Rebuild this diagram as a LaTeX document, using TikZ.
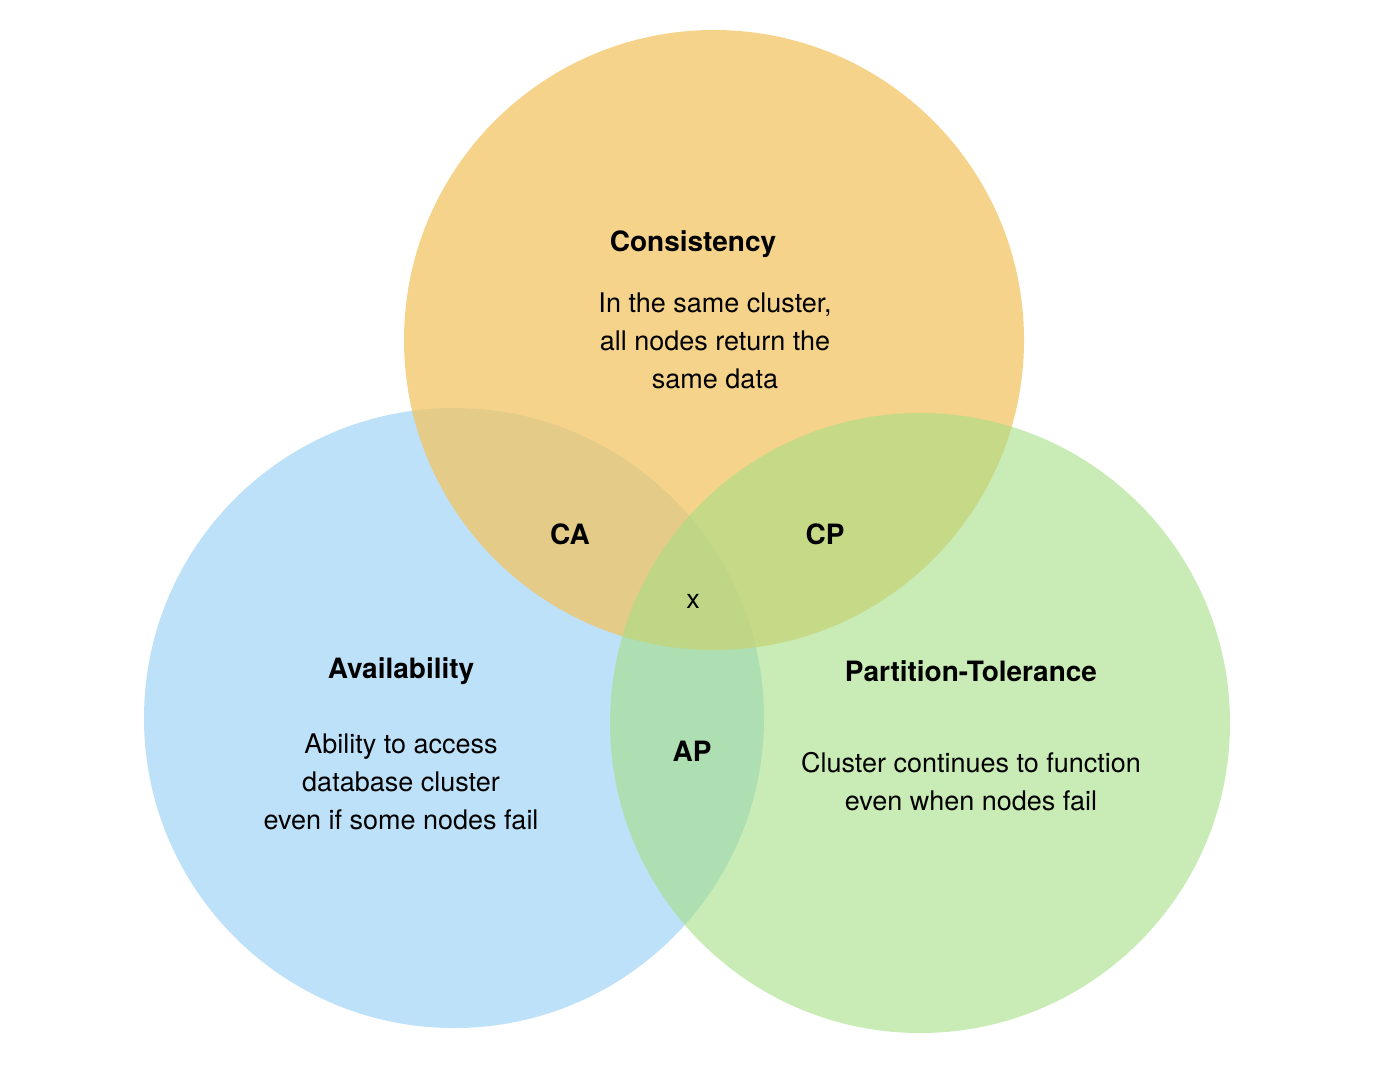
\documentclass[tikz,border=0pt]{standalone}
\usepackage{fontspec}
\setmainfont{TeX Gyre Heros}
\definecolor{cblue}{HTML}{BDE1F9}
\definecolor{corange}{HTML}{F2C463}
\definecolor{cgreen}{HTML}{A5DE84}
\begin{document}
\begin{tikzpicture}[x=0.5pt,y=-0.5pt,
  title/.style={font=\fontsize{14}{17}\selectfont\bfseries},
  body/.style={font=\fontsize{13.5}{19}\selectfont,align=center},
  lbl/.style={font=\fontsize{14}{17}\selectfont\bfseries}]
\useasboundingbox (0,0) rectangle (1400,1073);
\fill[cblue] (454,718) circle[radius=310];
\fill[corange,fill opacity=0.75] (714,340) circle[radius=310];
\fill[cgreen,fill opacity=0.6] (920,723) circle[radius=310];
\node[title] (ct) at (693,244) {Consistency};
\node[body] (cb) at (715,341) {In the same cluster,\\all nodes return the\\same data};
\node[lbl] (ca) at (570,534) {CA};
\node[lbl] (cp) at (825,534) {CP};
\node[font=\fontsize{13.5}{16}\selectfont] (x) at (693,601) {x};
\node[title] (at) at (401,671) {Availability};
\node[body] (ab) at (401,782) {Ability to access\\database cluster\\even if some nodes fail};
\node[lbl] (ap) at (692,751) {AP};
\node[title] (pt) at (971,671) {Partition-Tolerance};
\node[body] (pb) at (971,782) {Cluster continues to function\\even when nodes fail};
\end{tikzpicture}
\end{document}
